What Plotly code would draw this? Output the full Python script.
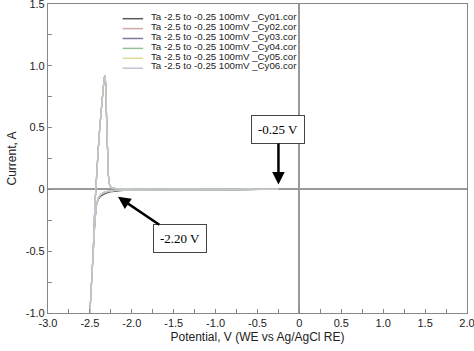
import plotly.graph_objects as go

# ---- data ----
cycle_names = [f"Ta -2.5 to -0.25 100mV _Cy0{i}.cor" for i in range(1, 7)]
cycle_colors = ["#5a5a5a", "#cfa9a9", "#7a7a9e", "#96bf96", "#e0d99a", "#c0c6d2"]

# cathodic sweep (-0.25 -> -2.52 V)
pot_cath = [-0.25, -0.5, -0.75, -1.0, -1.25, -1.5, -1.75, -2.0, -2.1, -2.2,
            -2.26, -2.32, -2.37, -2.40, -2.42, -2.44, -2.46, -2.48, -2.50, -2.52]
cur_cath_cy01 = [0.003, 0.0, -0.002, -0.006, 0.0, -0.002, 0.002, -0.005, -0.008, -0.012,
                 -0.02, -0.035, -0.055, -0.08, -0.12, -0.25, -0.5, -0.75, -1.0, -1.25]
cur_cath_rest = [0.003, 0.0, -0.002, -0.004, 0.0, -0.002, 0.002, -0.004, -0.006, -0.008,
                 -0.012, -0.02, -0.04, -0.07, -0.12, -0.25, -0.5, -0.75, -1.0, -1.25]

# anodic sweep (-2.52 -> -0.25 V)
pot_anod = [-2.52, -2.50, -2.48, -2.46, -2.44, -2.42, -2.40, -2.38, -2.36, -2.34,
            -2.33, -2.32, -2.31, -2.30, -2.29, -2.28, -2.27, -2.26, -2.24, -2.2,
            -2.0, -1.5, -1.0, -0.5, -0.25]
cur_anod = [-1.25, -1.0, -0.75, -0.5, -0.12, 0.15, 0.33, 0.52, 0.7, 0.85,
            0.9, 0.92, 0.84, 0.55, 0.3, 0.12, 0.05, 0.025, 0.012, 0.008,
            0.004, 0.002, 0.0, 0.001, 0.003]

x_ticks = [-3.0, -2.5, -2.0, -1.5, -1.0, -0.5, 0, 0.5, 1.0, 1.5, 2.0]
x_tick_text = ["-3.0", "-2.5", "-2.0", "-1.5", "-1.0", "-0.5", "0", "0.5", "1.0", "1.5", "2.0"]
y_ticks = [-1.0, -0.5, 0, 0.5, 1.0, 1.5]
y_tick_text = ["-1.0", "-0.5", "0", "0.5", "1.0", "1.5"]

fig = go.Figure()
for i, (name, color) in enumerate(zip(cycle_names, cycle_colors)):
    cath = cur_cath_cy01 if i == 0 else cur_cath_rest
    fig.add_trace(go.Scatter(
        x=pot_cath + pot_anod, y=cath + cur_anod, mode="lines", name=name,
        line=dict(color=color, width=1.2), showlegend=False,
    ))

# compact legend (drawn manually: plotly's legend rows are too tall)
PLOT_TOP, PLOT_H = 4, 309
for i, (name, color) in enumerate(zip(cycle_names, cycle_colors)):
    py_line = 18.7 + 9.9 * i
    py_text = 16.4 + 9.9 * i
    yl = 1 - (py_line - PLOT_TOP) / PLOT_H
    yt = 1 - (py_text - PLOT_TOP) / PLOT_H
    fig.add_shape(type="line", xref="paper", yref="paper", x0=0.178, x1=0.227,
                  y0=yl, y1=yl, line=dict(color=color, width=1.5))
    fig.add_annotation(x=0.243, y=yt, xref="paper", yref="paper", text=name,
                       showarrow=False, xanchor="left", yanchor="middle", borderpad=0,
                       font=dict(family="Liberation Sans", size=9.7, color="#222"))

fig.add_annotation(x=-0.25, y=0.04, xref="x", yref="y", text="-0.25 V",
                   showarrow=True, ax=0, ay=-55, arrowhead=2, arrowsize=1,
                   arrowwidth=2.5, arrowcolor="black",
                   bordercolor="#444", borderwidth=1, borderpad=6, bgcolor="white",
                   font=dict(family="Liberation Serif", size=13, color="black"))
fig.add_annotation(x=-2.165, y=-0.06, xref="x", yref="y", text="-2.20 V",
                   showarrow=True, ax=62, ay=42, arrowhead=2, arrowsize=1,
                   arrowwidth=2.5, arrowcolor="black",
                   bordercolor="#444", borderwidth=1, borderpad=6, bgcolor="white",
                   font=dict(family="Liberation Serif", size=13, color="black"))

axis_common = dict(showgrid=False, showline=True, linecolor="#888", linewidth=1.2,
                   mirror=True, ticks="inside", ticklen=4, tickcolor="#888",
                   zeroline=True, zerolinecolor="#999", zerolinewidth=1.5,
                   ticklabeloverflow="allow", automargin=False,
                   tickfont=dict(family="Liberation Sans", size=11, color="#222"))

fig.update_layout(
    width=474, height=351,
    margin=dict(l=48, r=7, t=4, b=38),
    paper_bgcolor="white", plot_bgcolor="white",
    font=dict(family="Liberation Sans", color="#222"),
    xaxis=dict(range=[-3.0, 2.0], tickvals=x_ticks, ticktext=x_tick_text,
               minor=dict(dtick=0.25, tick0=0, ticks="inside", ticklen=4, tickcolor="#888"),
               title=dict(text="Potential, V (WE vs Ag/AgCl RE)", standoff=4,
                          font=dict(size=12)), **axis_common),
    yaxis=dict(range=[-1.0, 1.5], tickvals=y_ticks, ticktext=y_tick_text,
               minor=dict(dtick=0.25, tick0=0, ticks="inside", ticklen=4, tickcolor="#888"),
               title=dict(text="Current, A", standoff=6, font=dict(size=12)), **axis_common),
    showlegend=False,
)

fig.write_html("out.html")
